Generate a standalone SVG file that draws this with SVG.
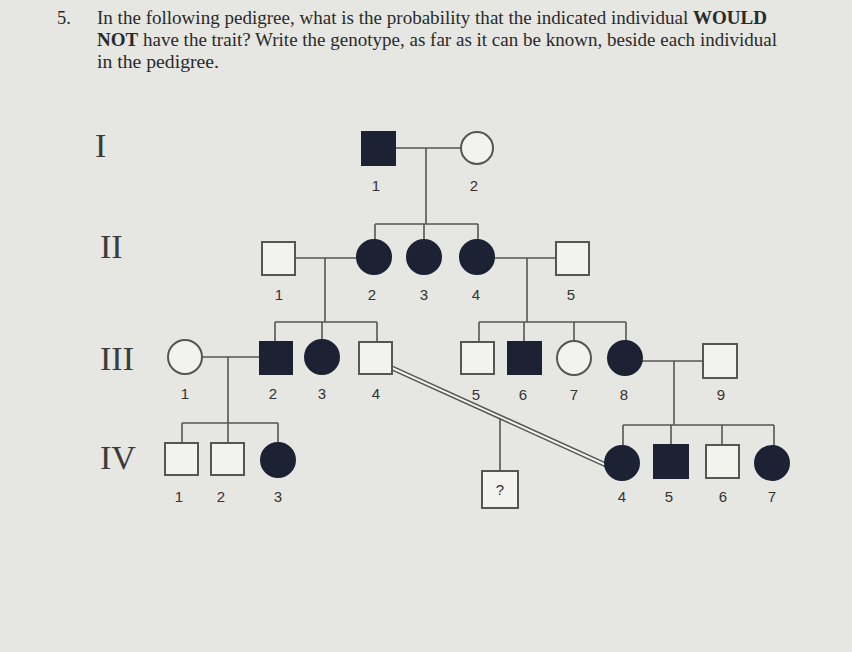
<svg xmlns="http://www.w3.org/2000/svg" width="852" height="652" viewBox="0 0 852 652">
<style>
.t{font-family:"Liberation Serif",serif;font-size:18.5px;fill:#2a2a2a}
.r{font-family:"Liberation Serif",serif;font-size:34px;fill:#3a3a3a}
.n{font-family:"Liberation Sans",sans-serif;font-size:15px;fill:#333;text-anchor:middle}
.o{fill:#f2f2ee;stroke:#555;stroke-width:2}
.f{fill:#1c2233;stroke:#1c2233;stroke-width:2}
.l{stroke:#555;stroke-width:1.6;fill:none}
</style>
<rect width="852" height="652" fill="#e6e6e2"/>
<g id="title">
<text class="t" x="57" y="24">5.</text>
<text class="t" x="97" y="24" textLength="670" lengthAdjust="spacingAndGlyphs">In the following pedigree, what is the probability that the indicated individual <tspan font-weight="bold">WOULD</tspan></text>
<text class="t" x="97" y="46" textLength="680" lengthAdjust="spacingAndGlyphs"><tspan font-weight="bold">NOT</tspan> have the trait? Write the genotype, as far as it can be known, beside each individual</text>
<text class="t" x="97" y="68" textLength="122" lengthAdjust="spacingAndGlyphs">in the pedigree.</text>
</g>
<g id="gens">
<text class="r" x="95" y="157">I</text>
<text class="r" x="100" y="258">II</text>
<text class="r" x="100" y="370">III</text>
<text class="r" x="100" y="469">IV</text>
</g>
<g id="connectors">
<path class="l" d="M395 148H461M426 148V224M375 224H478M375 224V240M424 224V240M478 224V240"/>
<path class="l" d="M295 258H357M325 258V322M494 258H556M527 258V322"/>
<path class="l" d="M275 322H377M275 322V342M322 322V340M377 322V342"/>
<path class="l" d="M479 322H626M479 322V342M524 322V342M574 322V341M626 322V341"/>
<path class="l" d="M202 357H260M228 357V423M182 423H278M182 423V443M228 423V443M278 423V443"/>
<path class="l" d="M642 361H703M674 361V425M623 425H774M623 425V446M671 425V445M722 425V445M774 425V446"/>
<path d="M392 368L606 465" stroke="#555" stroke-width="5" fill="none"/>
<path d="M392 368L606 465" stroke="#f2f2ee" stroke-width="2" fill="none"/>
<path class="l" d="M500 418V471"/>
</g>
<g id="I-1"><rect class="f" x="362" y="132" width="33" height="33"/><text class="n" x="376" y="191">1</text></g>
<g id="I-2"><circle class="o" cx="477" cy="148" r="16"/><text class="n" x="474" y="191">2</text></g>
<g id="II-1"><rect class="o" x="262" y="242" width="33" height="33"/><text class="n" x="279" y="300">1</text></g>
<g id="II-2"><circle class="f" cx="374" cy="257" r="17"/><text class="n" x="372" y="300">2</text></g>
<g id="II-3"><circle class="f" cx="424" cy="257" r="17"/><text class="n" x="424" y="300">3</text></g>
<g id="II-4"><circle class="f" cx="477" cy="257" r="17"/><text class="n" x="476" y="300">4</text></g>
<g id="II-5"><rect class="o" x="556" y="242" width="33" height="33"/><text class="n" x="571" y="300">5</text></g>
<g id="III-1"><circle class="o" cx="185" cy="357" r="17"/><text class="n" x="185" y="399">1</text></g>
<g id="III-2"><rect class="f" x="260" y="342" width="32" height="32"/><text class="n" x="273" y="399">2</text></g>
<g id="III-3"><circle class="f" cx="322" cy="357" r="17"/><text class="n" x="322" y="399">3</text></g>
<g id="III-4"><rect class="o" x="359" y="342" width="33" height="32"/><text class="n" x="376" y="399">4</text></g>
<g id="III-5"><rect class="o" x="461" y="342" width="33" height="32"/><text class="n" x="476" y="400">5</text></g>
<g id="III-6"><rect class="f" x="508" y="342" width="33" height="32"/><text class="n" x="523" y="400">6</text></g>
<g id="III-7"><circle class="o" cx="574" cy="358" r="17"/><text class="n" x="574" y="400">7</text></g>
<g id="III-8"><circle class="f" cx="625" cy="358" r="17"/><text class="n" x="624" y="400">8</text></g>
<g id="III-9"><rect class="o" x="703" y="344" width="34" height="34"/><text class="n" x="721" y="400">9</text></g>
<g id="IV-1"><rect class="o" x="165" y="443" width="33" height="32"/><text class="n" x="179" y="502">1</text></g>
<g id="IV-2"><rect class="o" x="211" y="443" width="33" height="32"/><text class="n" x="221" y="502">2</text></g>
<g id="IV-3"><circle class="f" cx="278" cy="460" r="17"/><text class="n" x="278" y="502">3</text></g>
<g id="IV-q"><rect class="o" x="482" y="471" width="36" height="37" stroke-width="1.5"/><text class="n" x="500" y="495" font-size="13">?</text></g>
<g id="IV-4"><circle class="f" cx="622" cy="463" r="17"/><text class="n" x="622" y="502">4</text></g>
<g id="IV-5"><rect class="f" x="654" y="445" width="34" height="33"/><text class="n" x="669" y="502">5</text></g>
<g id="IV-6"><rect class="o" x="706" y="445" width="33" height="33"/><text class="n" x="723" y="502">6</text></g>
<g id="IV-7"><circle class="f" cx="772" cy="463" r="17"/><text class="n" x="772" y="502">7</text></g>
</svg>
